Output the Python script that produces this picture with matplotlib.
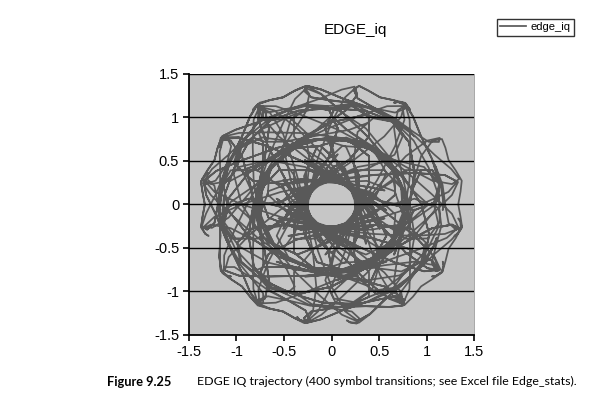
import math

import numpy as np
import matplotlib
matplotlib.use("Agg")
import matplotlib.pyplot as plt

# 8PSK symbol indices (400 symbol transitions)
symbols = (
    "3605172441736025517306427153306142756021"
    "7453120664271035542617703146625071342516"
    "0427361155302746210573364017226541037452"
    "6130574426017353246710625543107362240516"
    "2756103447260135527406613742055316204761"
    "4031276653014725360417526634102577431605"
    "1564207331652047716023544176305261437025"
    "5217460336142570154236607413725520614730"
    "7341056223746150431765220567314406257163"
    "0625734114563207632514407365123750426314"
)
ticks = [-1.5, -1, -0.5, 0, 0.5, 1, 1.5]
tick_labels = ["-1.5", "-1", "-0.5", "0", "0.5", "1", "1.5"]
title = "EDGE_iq"
series_name = "edge_iq"
caption_head = "Figure 9.25"
caption_body = "EDGE IQ trajectory (400 symbol transitions; see Excel file Edge_stats)."

OSR = 4      # samples per symbol
BT = 0.38
PEAK = 1.4


def q_func(x):
    return 0.5 * np.vectorize(math.erfc)(x / math.sqrt(2))


def edge_pulse(osr):
    # linearised GMSK pulse C0, spanning 5 symbols
    fine = 64
    t = np.arange(0, 8 * fine + 1) / fine
    k = 2 * math.pi * BT / math.sqrt(math.log(2))
    g = (q_func(k * (t - 2.5)) - q_func(k * (t - 1.5))) / 2
    gi = np.concatenate([[0], np.cumsum((g[1:] + g[:-1]) / 2) / fine])

    def s_fn(tt):
        out = np.zeros_like(tt)
        a = (tt >= 0) & (tt <= 4)
        out[a] = np.sin(math.pi * np.interp(tt[a], t, gi))
        b = (tt > 4) & (tt <= 8)
        out[b] = np.sin(math.pi / 2 - math.pi * np.interp(tt[b] - 4, t, gi))
        return out

    tc = np.arange(0, 5 * osr + 1) / osr
    c0 = np.ones_like(tc)
    for i in range(4):
        c0 *= s_fn(tc + i)
    return c0


d = np.array([int(c) for c in symbols])
n = np.arange(len(d))
sym = np.exp(1j * (n * 3 * np.pi / 8 + 2 * np.pi * d / 8))
up = np.zeros(len(d) * OSR, dtype=complex)
up[::OSR] = sym
sig = np.convolve(up, edge_pulse(OSR))
sig = sig[5 * OSR: len(d) * OSR]
sig = sig / np.abs(sig).max() * PEAK

fig = plt.figure(figsize=(5.92, 3.95), dpi=100)
plt.rcParams["font.family"] = ["Liberation Sans", "DejaVu Sans"]
ax = fig.add_axes([0.319, 0.152, 0.482, 0.661])
ax.set_facecolor("#c6c6c6")
ax.plot(sig.real, sig.imag, color="#595959", lw=1.25, label=series_name)
ax.set_xlim(-1.5, 1.5)
ax.set_ylim(-1.5, 1.5)
ax.set_xticks(ticks)
ax.set_xticklabels(tick_labels, fontsize=10.5)
ax.set_yticks(ticks)
ax.set_yticklabels(tick_labels, fontsize=10.5)
ax.yaxis.grid(True, color="black", lw=1.0)
ax.set_axisbelow(False)
for side in ["top", "right"]:
    ax.spines[side].set_color("#999999")
    ax.spines[side].set_linewidth(0.6)
for side in ["left", "bottom"]:
    ax.spines[side].set_linewidth(1.3)
ax.tick_params(direction="out", length=4, width=1.2, pad=3)

fig.text(0.6, 0.925, title, ha="center", va="center", fontsize=11)
leg = fig.legend(loc="center", bbox_to_anchor=(0.904, 0.931), fontsize=8,
                 frameon=True, fancybox=False, edgecolor="black",
                 handlelength=2.3, borderpad=0.3, handletextpad=0.4)
leg.get_frame().set_linewidth(1.0)

fig.text(0.181, 0.033, caption_head, fontsize=9.2, fontweight="bold",
         family=["Lato", "DejaVu Sans"], va="center")
fig.text(0.333, 0.033, caption_body, fontsize=8.95,
         family=["Lato", "DejaVu Sans"], va="center")

fig.savefig("out.png", dpi=100)
